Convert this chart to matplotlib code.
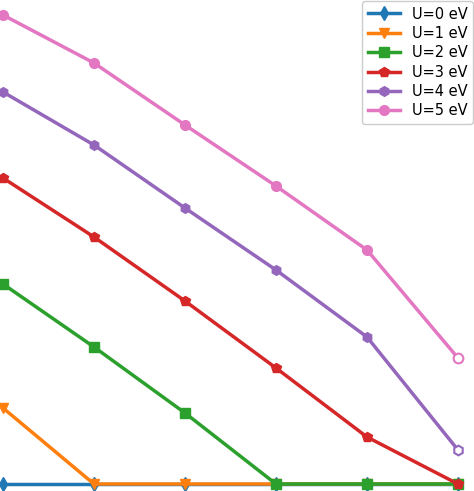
import matplotlib
matplotlib.use("Agg")
import matplotlib.pyplot as plt

x = [0, 1, 2, 3, 4, 5]
labels = ["U=0 eV", "U=1 eV", "U=2 eV", "U=3 eV", "U=4 eV", "U=5 eV"]
markers = ["d", "v", "s", "p", "h", "o"]
series = [
    [0, 0, 0, 0, 0, 0],
    [0.76, 0, 0, 0, 0, 0],
    [2.00, 1.37, 0.71, 0, 0, 0],
    [3.06, 2.47, 1.83, 1.16, 0.47, 0],
    [3.92, 3.39, 2.76, 2.14, 1.47, 0.34],
    [4.69, 4.21, 3.59, 2.98, 2.34, 1.26],
]

fig = plt.figure(figsize=(4.74, 4.91), dpi=100)
ax = fig.add_axes([0, 0, 1, 1])
for i, (ys, lab, m) in enumerate(zip(series, labels, markers)):
    line, = ax.plot(x, ys, marker=m, lw=2.5, ms=7, label=lab, clip_on=False,
                    markevery=slice(0, 5) if i >= 4 else None)
    if i >= 4:
        ax.plot(x[-1:], ys[-1:], marker=m, ms=7, ls="none", mfc="white",
                mec=line.get_color(), mew=1.5, clip_on=False)
ax.set_xlim(-0.033, 5.176)
ax.set_ylim(-0.07, 4.84)
ax.axis("off")
ax.legend(loc="upper right", borderaxespad=0.05, fontsize=10.5, handlelength=2.2,
          labelspacing=0.3, framealpha=1)
fig.savefig("out.png", dpi=100)
